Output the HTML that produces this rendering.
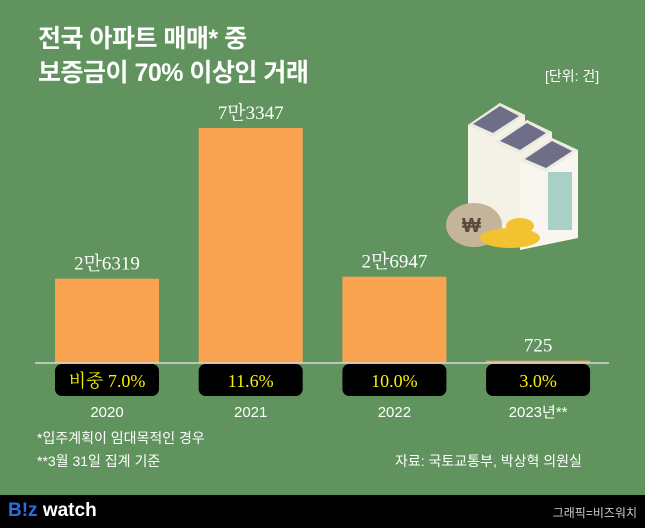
<!DOCTYPE html>
<html><head><meta charset="utf-8"><style>
body{margin:0;width:645px;height:528px;overflow:hidden;background:#60935e;font-family:"Liberation Sans","Noto Sans CJK KR",sans-serif;position:relative}
.t{position:absolute;color:#fff}
</style></head><body>
<div class="t" style="left:38px;top:22px;font-size:25px;font-weight:bold;line-height:34px;letter-spacing:-0.5px">전국 아파트 매매* 중<br>보증금이 70% 이상인 거래</div>
<div class="t" style="left:545px;top:66px;font-size:14px">[단위: 건]</div>
<svg width="645" height="528" style="position:absolute;left:0;top:0">
<polygon points="468,125 500,103 525,115 525,210 468,220" fill="#f4f1e6"/>
<polygon points="468,125 500,103 525,115 493,137" fill="#ecebe0"/>
<polygon points="473,124 500,106 519,116 493,133" fill="#6e6e88"/>
<polygon points="495,142 527,120 552,132 552,228 495,236" fill="#f4f1e6"/>
<polygon points="495,142 527,120 552,132 520,154" fill="#ecebe0"/>
<polygon points="500,141 527,123 546,133 520,150" fill="#6e6e88"/>
<polygon points="520,160 552,138 578,150 578,238 520,250" fill="#f8f6ee"/>
<polygon points="520,160 552,138 578,150 546,172" fill="#ecebe0"/>
<polygon points="525,159 552,141 572,151 546,168" fill="#6e6e88"/>
<rect x="548" y="172" width="24" height="58" fill="#a9cfc6"/>
<ellipse cx="474" cy="225" rx="28" ry="22" fill="#c4b49a"/>
<text x="462" y="232" font-size="20" font-weight="bold" fill="#5a4a3a">₩</text>
<ellipse cx="510" cy="238" rx="30" ry="10" fill="#f2c230"/>
<ellipse cx="520" cy="226" rx="14" ry="8" fill="#f2c230"/>
</svg>
<svg id="chart" width="645" height="528" style="position:absolute;left:0;top:0"></svg>
<div class="t" style="left:37px;top:428px;font-size:14px">*입주계획이 임대목적인 경우</div>
<div class="t" style="left:37px;top:451px;font-size:14px">**3월 31일 집계 기준</div>
<div class="t" style="left:395px;top:451px;font-size:14px">자료: 국토교통부, 박상혁 의원실</div>
<div style="position:absolute;left:0;top:495px;width:645px;height:33px;background:#000">
<div class="t" style="left:8px;top:5px;font-size:19px;font-weight:bold"><span style="color:#2a6fe0">B!z</span> watch</div>
<div class="t" style="right:8px;top:9px;font-size:12px;color:#ccc">그래픽=비즈워치</div>
</div>
<script>
const categories=["2020","2021","2022","2023년**"];
const values=[26319,73347,26947,725];
const valueLabels=["2만6319","7만3347","2만6947","725"];
const shares=["비중 7.0%","11.6%","10.0%","3.0%"];
const svg=document.getElementById('chart');
const NS='http://www.w3.org/2000/svg';
const base=363,maxH=235,maxV=73347;
const y=v=>base-v/maxV*maxH;
const x=i=>55+i*143.7;
const bw=104;
function mk(t,a){const e=document.createElementNS(NS,t);for(const k in a)e.setAttribute(k,a[k]);svg.appendChild(e);return e;}
values.forEach((v,i)=>{
const r=mk('rect',{x:x(i),y:y(v),width:bw,height:base-y(v),fill:'#f9a350'});


const t=mk('text',{x:x(i)+bw/2,y:y(v)-9,'text-anchor':'middle','font-size':19,fill:'#fff','font-family':'Liberation Serif,Noto Serif CJK SC,serif'});
t.textContent=valueLabels[i];


const p=mk('rect',{x:x(i),y:364,width:bw,height:32,rx:7,fill:'#000'});


const s=mk('text',{x:x(i)+bw/2,y:387,'text-anchor':'middle','font-size':18,fill:'#f5f000','font-family':'Liberation Serif,Noto Serif CJK KR,serif'});
s.textContent=shares[i];


const c=mk('text',{x:x(i)+bw/2,y:417,'text-anchor':'middle','font-size':15,fill:'#fff'});
c.textContent=categories[i];


});
const l=mk('line',{x1:35,x2:609,y1:363,y2:363,stroke:'#d8d8d8','stroke-width':1.5});


</script>
</body></html>
